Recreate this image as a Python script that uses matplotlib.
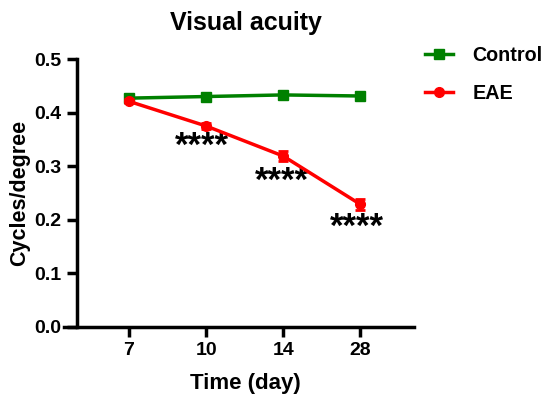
import matplotlib
matplotlib.use("Agg")
import matplotlib.pyplot as plt

plt.rcParams['font.family'] = ['Liberation Sans', 'DejaVu Sans']
plt.rcParams['font.weight'] = 'bold'

days = ["7", "10", "14", "28"]
control = [0.427, 0.430, 0.433, 0.431]
control_err = [0.003, 0.003, 0.003, 0.003]
eae = [0.421, 0.375, 0.319, 0.229]
eae_err = [0.004, 0.006, 0.010, 0.010]
stars = ["", "****", "****", "****"]
star_y = [0, 0.345, 0.280, 0.194]
star_dx = [0, -0.06, -0.02, -0.04]

x = list(range(len(days)))

fig = plt.figure(figsize=(5.5, 4.07), dpi=100)
ax = fig.add_axes([0.14, 0.1966, 0.613, 0.6584])

c = ax.errorbar(x, control, yerr=control_err, color='#008000', marker='s', markersize=7,
                linewidth=2.5, capsize=3.5, elinewidth=2, capthick=2, zorder=3)
e = ax.errorbar(x, eae, yerr=eae_err, color='#ff0000', marker='o', markersize=7,
                linewidth=2.5, capsize=3.5, elinewidth=2, capthick=2, zorder=4)

for xi, s, yi, dx in zip(x, stars, star_y, star_dx):
    if s:
        ax.annotate(s, (xi + dx, yi), xytext=(0, -3), textcoords='offset points',
                    ha='center', va='center', fontsize=25, fontweight='bold')

ax.set_xlim(-0.675, 3.7)
ax.set_ylim(0, 0.5)
ax.set_xticks(x)
ax.set_xticklabels(days)
ax.set_yticks([0.0, 0.1, 0.2, 0.3, 0.4, 0.5])
ax.set_yticklabels(["0.0", "0.1", "0.2", "0.3", "0.4", "0.5"])
ax.tick_params(labelsize=14, width=2.5, length=7, pad=4)
for sp in ['top', 'right']:
    ax.spines[sp].set_visible(False)
for sp in ['left', 'bottom']:
    ax.spines[sp].set_linewidth(2.5)
ax.spines['bottom'].set_bounds(-0.85, 3.7)

ax.set_xlabel("Time (day)", fontsize=16, fontweight='bold', labelpad=10)
ax.set_ylabel("Cycles/degree", fontsize=15.5, fontweight='bold', labelpad=3)
ax.set_title("Visual acuity", fontsize=18, fontweight='bold', pad=21)

ax.legend([c.lines[0], e.lines[0]], ["Control", "EAE"], loc='upper left',
          bbox_to_anchor=(0.98, 1.115), frameon=False, fontsize=14.2,
          handlelength=1.4, handletextpad=1.0, labelspacing=0.95)

fig.savefig("out.png", dpi=100)
